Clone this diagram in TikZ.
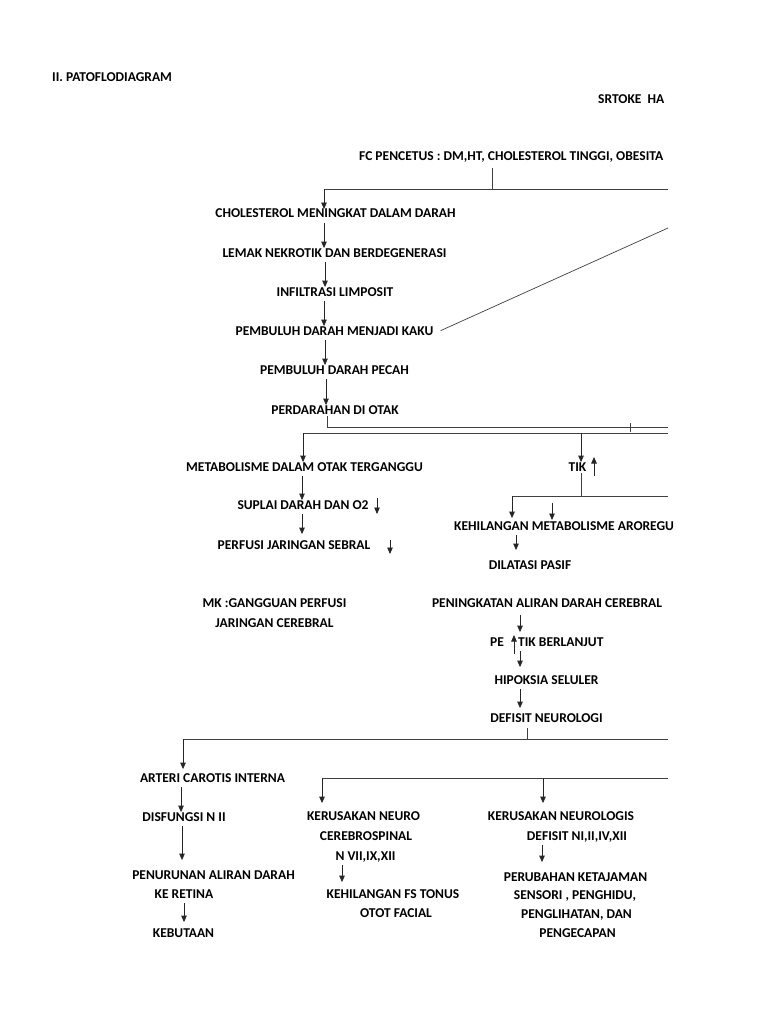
\documentclass[tikz,border=0pt]{standalone}
\usepackage{fontspec}
\setmainfont{Carlito}
\usetikzlibrary{arrows.meta}
\begin{document}
\begin{tikzpicture}[x=1pt,y=-1pt,
  lbl/.style={anchor=base, inner sep=0pt, text height=8.7pt, text depth=0pt,
    font=\bfseries\fontsize{13.5}{15}\selectfont, text=black},
  lblw/.style={lbl, anchor=base west},
  arr/.style={line width=0.8pt, black!85, -{Triangle[width=5.5pt,length=6.5pt]}},
  chain/.style={arr, shorten <=5pt},
  ln/.style={line width=0.9pt, black!75},
]
\fill[white] (0,0) rectangle (768,1024);
\useasboundingbox (0,0) rectangle (768,1024);

% headings
\node[lblw] (title) at (52,82) {II. PATOFLODIAGRAM};
\node[lblw] (srtoke) at (598,104) {SRTOKE\ \ HA};
\node[lblw] (fc) at (359,161) {FC PENCETUS : DM,HT, CHOLESTEROL TINGGI, OBESITA};

% main chain
\node[lbl] (chol) at (335.5,218) {CHOLESTEROL MENINGKAT DALAM DARAH};
\node[lbl] (lemak) at (334.5,257) {LEMAK NEKROTIK DAN BERDEGENERASI};
\node[lbl] (infil) at (335,296) {INFILTRASI LIMPOSIT};
\node[lbl] (kaku) at (334.5,335) {PEMBULUH DARAH MENJADI KAKU};
\node[lbl] (pecah) at (334.5,374) {PEMBULUH DARAH PECAH};
\node[lbl] (perdar) at (335,414) {PERDARAHAN DI OTAK};

% left branch
\node[lbl] (metab) at (304.5,471) {METABOLISME DALAM OTAK TERGANGGU};
\node[lbl] (suplai) at (303,509) {SUPLAI DARAH DAN O2};
\node[lbl] (perfusi) at (294,549) {PERFUSI JARINGAN SEBRAL};
\node[lbl] (mka) at (274.5,607) {MK :GANGGUAN PERFUSI};
\node[lbl] (mkb) at (274.5,627) {JARINGAN CEREBRAL};

% right branch
\node[lbl] (tik) at (577.5,471) {TIK};
\node[lblw] (kehil) at (454,530) {KEHILANGAN METABOLISME AROREGU};
\node[lbl] (dilat) at (530,569) {DILATASI PASIF};
\node[lbl] (pening) at (547,607) {PENINGKATAN ALIRAN DARAH CEREBRAL};
\node[lblw] (pe) at (490,646) {PE};
\node[lblw] (tikb) at (518,646) {TIK BERLANJUT};
\node[lbl] (hipok) at (546.5,684) {HIPOKSIA SELULER};
\node[lbl] (defisit) at (546.5,722) {DEFISIT NEUROLOGI};

% bottom
\node[lbl] (arteri) at (212.5,782) {ARTERI CAROTIS INTERNA};
\node[lbl] (disf) at (184,821) {DISFUNGSI N II};
\node[lbl] (penur) at (213.5,879) {PENURUNAN ALIRAN DARAH};
\node[lbl] (keret) at (184,898) {KE RETINA};
\node[lbl] (kebut) at (183.5,937) {KEBUTAAN};

\node[lbl] (kneuro) at (363.5,820) {KERUSAKAN NEURO};
\node[lbl] (cerebro) at (366,840) {CEREBROSPINAL};
\node[lbl] (nvii) at (365.5,860) {N VII,IX,XII};
\node[lbl] (kehfs) at (393,898) {KEHILANGAN FS TONUS};
\node[lbl] (otot) at (396,917) {OTOT FACIAL};

\node[lbl] (kneurol) at (561,820) {KERUSAKAN NEUROLOGIS};
\node[lbl] (defni) at (577,840) {DEFISIT NI,II,IV,XII};
\node[lbl] (perub) at (575.5,881) {PERUBAHAN KETAJAMAN};
\node[lbl] (sensori) at (575,899) {SENSORI , PENGHIDU,};
\node[lbl] (penglih) at (576.5,918) {PENGLIHATAN, DAN};
\node[lbl] (pengec) at (577.5,937) {PENGECAPAN};

% junction coordinates
\coordinate (j1) at (324,189);
\coordinate (j1e) at (668,189);
\coordinate (j2) at (327,427);
\coordinate (j2e) at (668,427);
\coordinate (j3) at (303,433);
\coordinate (j3e) at (668,433);
\coordinate (j3t) at (581,433);
\coordinate (j4) at (512,496);
\coordinate (j4e) at (668,496);
\coordinate (j4t) at (581,496);
\coordinate (j5) at (183,739);
\coordinate (j5e) at (668,739);
\coordinate (j5t) at (527,739);
\coordinate (j6) at (322,778);
\coordinate (j6e) at (668,778);
\coordinate (j6m) at (543,778);
\coordinate (dg) at (668,228);

% top fork
\draw[ln] ([yshift=-7pt]fc.south -| 492,0) -- (492,189);
\draw[ln] (j1) -- (j1e);
\draw[arr] (j1) -- (chol.north -| j1);
\draw[chain] (chol.south -| 324,0) -- (lemak.north -| 324,0);
\draw[chain] (lemak.south -| 325,0) -- (infil.north -| 325,0);
\draw[chain] (infil.south -| 324,0) -- (kaku.north -| 324,0);
\draw[chain] (kaku.south -| 325,0) -- (pecah.north -| 325,0);
\draw[chain] (pecah.south -| 326,0) -- (perdar.north -| 326,0);
\draw[ln, line width=0.7pt] ([xshift=7pt]kaku.east) -- (dg);

% perdarahan fork
\draw[ln] ([yshift=-2pt]perdar.south -| j2) -- (j2) -- (j2e);
\draw[ln] (630,423) -- (630,432);
\draw[ln] (j3) -- (j3e);
\draw[arr] (j3) -- (metab.north -| j3);
\draw[arr] (j3t) -- (tik.north -| j3t);
\draw[arr] (594,476) -- (594,457);

% left branch arrows
\draw[chain] (metab.south -| 302,0) -- (suplai.north -| 302,0);
\draw[arr] (377,498) -- (377,514);
\draw[chain, shorten >=6pt] (suplai.south -| 302,0) -- (perfusi.north -| 302,0);
\draw[arr] (390,540) -- (390,554);

% TIK fork
\draw[ln] ([yshift=-2pt]tik.south -| j4t) -- (j4t);
\draw[ln] (j4) -- (j4e);
\draw[arr, shorten >=3pt] (j4) -- (kehil.north -| j4);
\draw[arr] (552,503) -- (552,520);
\draw[chain, shorten >=10pt] (kehil.south -| 516,0) -- (dilat.north -| 516,0);
\draw[chain, shorten <=8pt, shorten >=5pt] (pening.south -| 520,0) -- (tikb.north -| 520,0);
\draw[arr] (514,654) -- (514,635);
\draw[chain, shorten >=8pt] (tikb.south -| 520,0) -- (hipok.north -| 520,0);
\draw[chain, shorten >=5pt] (hipok.south -| 520,0) -- (defisit.north -| 520,0);

% defisit fork
\draw[ln] ([yshift=-6pt]defisit.south -| j5t) -- (j5t);
\draw[ln] (j5) -- (j5e);
\draw[arr, shorten >=4pt] (j5) -- (arteri.north -| j5);
\draw[chain] (arteri.south -| 181,0) -- (disf.north -| 181,0);
\draw[chain, shorten >=10pt] (disf.south -| 182,0) -- (penur.north -| 182,0);
\draw[chain, shorten >=6pt] (keret.south -| 184,0) -- (kebut.north -| 184,0);

\draw[ln] (j6) -- (j6e);
\draw[arr, shorten >=8pt] (j6) -- (kneuro.north -| j6);
\draw[arr, shorten >=8pt] (j6m) -- (kneurol.north -| j6m);
\draw[chain, shorten >=7pt] (nvii.south -| 342,0) -- (kehfs.north -| 342,0);
\draw[chain, shorten >=10pt] (defni.south -| 542,0) -- (perub.north -| 542,0);
\end{tikzpicture}
\end{document}
